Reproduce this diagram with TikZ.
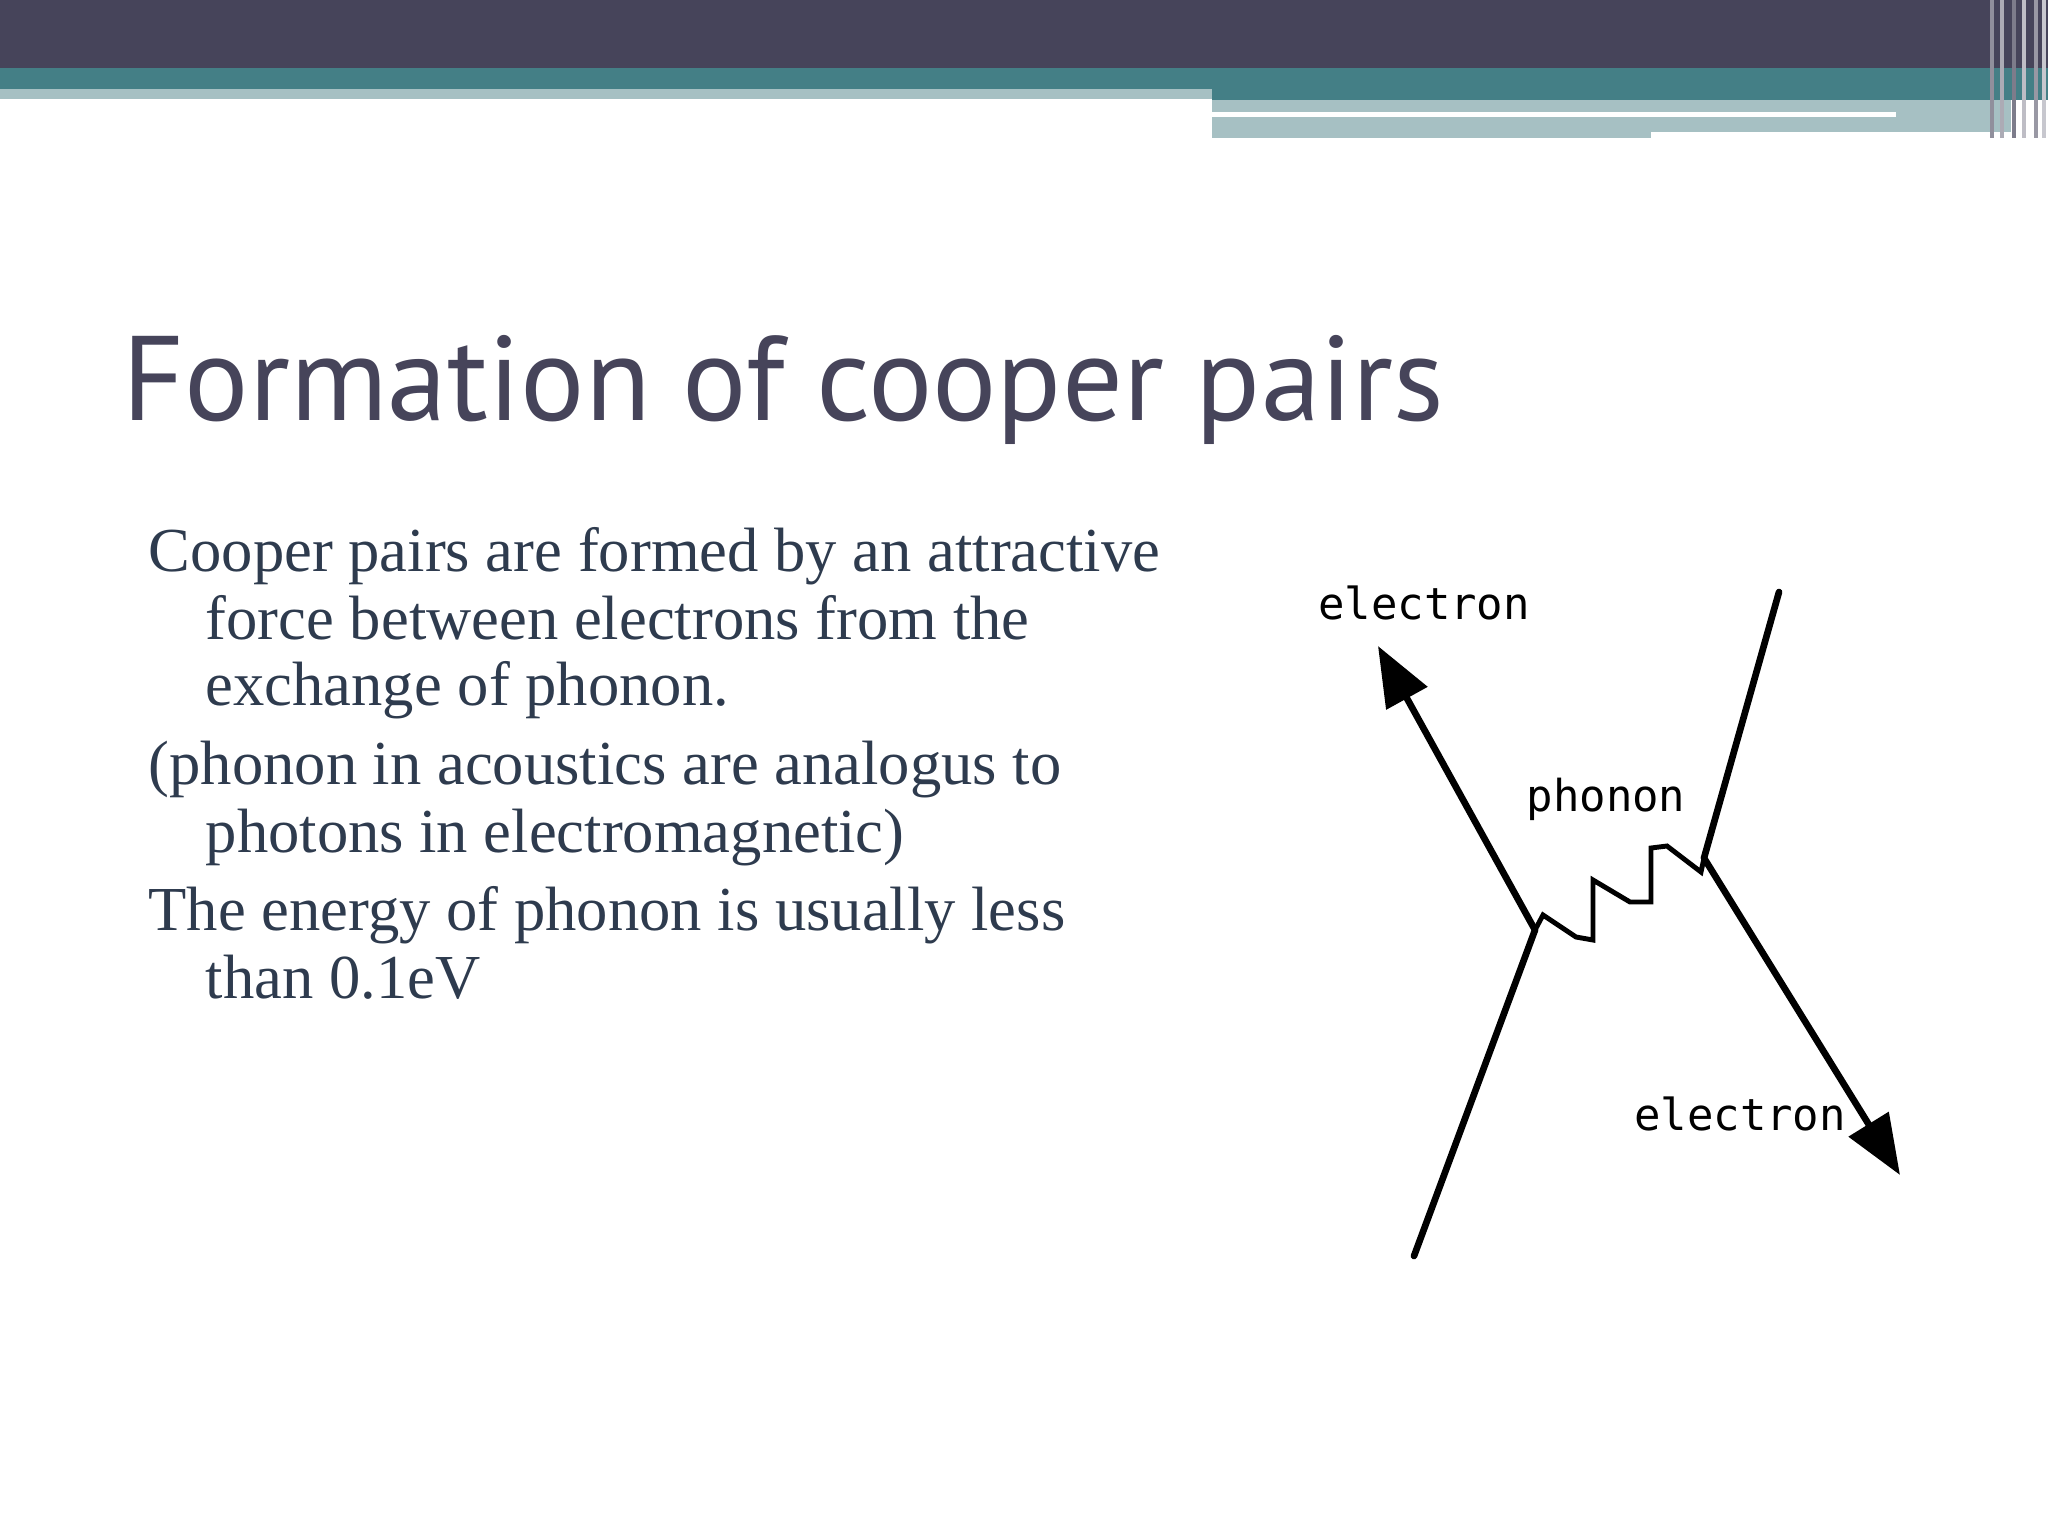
\documentclass[tikz,border=0pt]{standalone}
\usepackage{fontspec}
\setmainfont{Liberation Serif}
\newfontfamily\titlefont{PT Sans}
\newfontfamily\pixfont{DejaVu Sans Mono}
\usetikzlibrary{arrows.meta,positioning}
\definecolor{slatedark}{HTML}{46445A}
\definecolor{tealband}{HTML}{447F86}
\definecolor{tealpale}{HTML}{A6C0C3}
\definecolor{bodyink}{HTML}{2E3B4E}
\tikzset{
  bodyline/.style={anchor=base west,inner sep=0pt,text=bodyink,font=\fontsize{17.8}{21}\selectfont},
  tag/.style={inner sep=1pt,font=\pixfont\fontsize{12.5}{14}\selectfont},
  track/.style={line width=1.9pt,line cap=round},
  wiggle/.style={line width=1.4pt,line join=miter}
}
\begin{document}
\begin{tikzpicture}[x=0.01cm,y=-0.01cm]
  \useasboundingbox (0,0) rectangle (2048,1536);
  % header bands
  \fill[slatedark] (0,0) rectangle (2048,68);
  \fill[tealband] (0,68) rectangle (1212,89);
  \fill[tealpale] (0,89) rectangle (1212,99);
  \fill[tealband] (1212,68) rectangle (2048,100);
  \fill[tealpale] (1212,100) rectangle (2011,138);
  \fill[white] (1212,112) rectangle (1896,117);
  \fill[white] (1651,132) rectangle (2011,138);
  \foreach \xv/\sh in {1990/60,2000/45,2012/70,2022/35,2034/55,2042/30}
    \fill[slatedark!\sh!white] (\xv,0) rectangle ++(4,138);
  % title
  \node[anchor=base west,inner sep=0pt,text=slatedark,font=\titlefont\fontsize{34.2}{38}\selectfont] (title) at (122,420) {Formation of cooper pairs};
  % body text
  \node[bodyline] (p1a) at (148,571) {Cooper pairs are formed by an attractive};
  \node[bodyline] (p1b) at (205,639) {force between electrons from the};
  \node[bodyline] (p1c) at (205,705) {exchange of phonon.};
  \node[bodyline] (p2a) at (148,784) {(phonon in acoustics are analogus to};
  \node[bodyline] (p2b) at (205,852) {photons in electromagnetic)};
  \node[bodyline] (p3a) at (148,930) {The energy of phonon is usually less};
  \node[bodyline] (p3b) at (205,998) {than 0.1eV};
  % diagram
  \coordinate (vl) at (1535,930);
  \coordinate (vr) at (1704,858);
  \coordinate (inl) at (1414,1256);
  \coordinate (outl) at (1378,646);
  \coordinate (inr) at (1779,592);
  \coordinate (outr) at (1900,1175);
  \draw[track] (inl) -- (vl);
  \draw[track,-{Triangle[length=17pt,width=13pt]}] (vl) -- (outl);
  \draw[track] (inr) -- (vr);
  \draw[track,-{Triangle[length=17pt,width=13pt]}] (vr) -- (outr);
  \draw[wiggle] (vl) -- (1543,915) -- (1576,937) -- (1593,940) -- (1593,880)
    -- (1630,902) -- (1651,902) -- (1651,848) -- (1667,846) -- (1701,872) -- (vr);
  \node[tag] (elup) at (1424,603) {electron};
  \node[tag] (phon) at (1606,799) {phonon};
  \node[tag] (eldown) at (1740,1114) {electron};
\end{tikzpicture}
\end{document}
